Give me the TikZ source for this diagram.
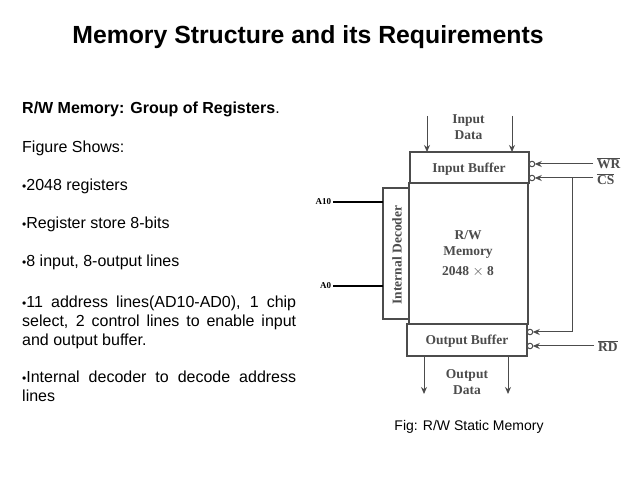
\documentclass[tikz,border=0pt]{standalone}
\usepackage{fontspec}
\usepackage{xcolor}
\setmainfont{Liberation Sans}
\newfontfamily\figfont{Liberation Serif}
\usetikzlibrary{arrows.meta, positioning}
\definecolor{figgray}{gray}{0.3}
\newcommand{\dotmark}{{\fontsize{12}{12}\selectfont\textbullet}}

\begin{document}
\begin{tikzpicture}[x=1pt,y=-1pt]
\tikzstyle{block} = [rectangle, draw=figgray, line width=2pt, fill=white, inner sep=0pt, outer sep=0pt, text centered, text depth=0pt, text=figgray, font=\figfont\bfseries\fontsize{13.5}{16}\selectfont]
\tikzstyle{label} = [text=figgray, inner sep=0pt, align=center, font=\figfont\bfseries\fontsize{13.5}{15.5}\selectfont]
\tikzstyle{addr} = [text=black, inner sep=0pt, font=\figfont\bfseries\fontsize{9}{9}\selectfont]
\tikzstyle{bubble} = [circle, draw=figgray, line width=1pt, fill=white, minimum size=5.5pt, inner sep=0pt, outer sep=0pt]
\tikzstyle{arrow} = [draw=figgray, line width=1pt, -{Stealth[length=7pt,width=6pt]}]
\tikzstyle{body} = [anchor=base west, inner sep=0pt, font=\fontsize{16}{18.8}\selectfont]
\tikzstyle{para} = [anchor=north west, inner sep=0pt, text width=274pt, align=justify, font=\fontsize{16}{18.8}\selectfont]

\useasboundingbox (0,0) rectangle (638,478);
\fill [white] (0,0) rectangle (638,478);

% text on the left
\node (title) [anchor=base, inner sep=0pt, font=\bfseries\fontsize{24.8}{28}\selectfont] at (308,44) {Memory Structure and its Requirements};
\node (group) [body] at (22,114) {\textbf{R/W Memory: Group of Registers}.};
\node (shows) [body] at (22,153) {Figure Shows:};
\node (regs) [body] at (22,191) {\dotmark 2048 registers};
\node (store) [body] at (22,229) {\dotmark Register store 8-bits};
\node (lines) [body] at (22,267) {\dotmark 8 input, 8-output lines};
\node (address) [para] at (22,296) {\dotmark 11 address lines(AD10-AD0), 1 chip select, 2 control lines to enable input and output buffer.};
\node (decode) [para] at (22,371) {\dotmark Internal decoder to decode address lines};

% memory blocks
\node (decoder) [block, minimum width=28pt, minimum height=131pt] at (397,253.5) {};
\node (memory) [block, minimum width=119pt, minimum height=141pt] at (468.5,253.5) {};
\node (input) [block, minimum width=119pt, minimum height=31pt, xshift=0.5pt, above=0pt of memory] {Input Buffer};
\node (output) [block, minimum width=120pt, minimum height=32pt, xshift=-1.5pt, below=0pt of memory] {Output Buffer};
\node (decname) [label, rotate=90] at (397,255) {Internal Decoder};
\node (memname) [label] at (468,254) {R/W\\Memory\\[5pt]2048 $\times$ 8};
\node (indata) [label] at (468.5,127) {Input\\Data};
\node (outdata) [label] at (467,382) {Output\\Data};
\node (caption) [anchor=base, inner sep=0pt, font=\fontsize{14}{16}\selectfont] at (469,431) {Fig: R/W Static Memory};

% control pins
\node (wrpin) [bubble] at (532,164) {};
\node (cspin) [bubble] at (532,178) {};
\node (enpin) [bubble] at (530,332) {};
\node (rdpin) [bubble] at (530,346) {};
\node (wr) [label, anchor=west, outer sep=4pt] at (593,163) {$\overline{\mbox{WR}}$};
\node (cs) [label, anchor=west, outer sep=4pt] at (593,179) {$\overline{\mbox{CS}}$};
\node (rd) [label, anchor=west, outer sep=4pt] at (594,346) {$\overline{\mbox{RD}}$};
\node (a10) [addr, anchor=east, outer sep=2pt] at (333,202) {A10};
\node (a0) [addr, anchor=east, outer sep=2pt] at (333,286) {A0};

\coordinate (in1) at (427,116);
\coordinate (in2) at (512,116);
\coordinate (in1end) at (427,152);
\coordinate (in2end) at (512,152);
\coordinate (out1) at (424,356);
\coordinate (out2) at (508,356);
\coordinate (out1end) at (424,394);
\coordinate (out2end) at (508,394);
\coordinate (csbranch) at (572,178);
\coordinate (enturn) at (572,332);
\coordinate (a10end) at (383,202);
\coordinate (a0end) at (383,286);

\draw [arrow] (in1) -- (in1end);
\draw [arrow] (in2) -- (in2end);
\draw [arrow] (out1) -- (out1end);
\draw [arrow] (out2) -- (out2end);
\draw [arrow] (wr.west |- wrpin) -- (wrpin);
\draw [arrow] (cs.west |- cspin) -- (cspin);
\draw [arrow] (csbranch) -- (enturn) -- (enpin);
\draw [arrow] (rd) -- (rdpin);
\draw [black, line width=1.4pt] (a10) -- (a10end);
\draw [black, line width=1.4pt] (a0) -- (a0end);

\end{tikzpicture}
\end{document}
